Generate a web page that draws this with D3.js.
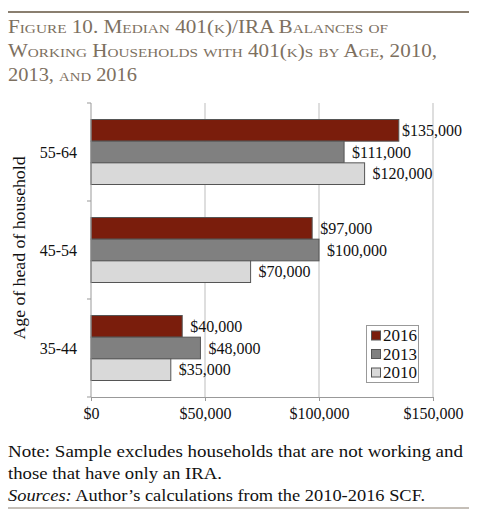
<!DOCTYPE html>
<html><head><meta charset="utf-8">
<script src="https://cdn.jsdelivr.net/npm/d3@7"></script>
<style>
body{margin:0;background:#fff;}
svg{display:block;font-family:"Liberation Serif","DejaVu Serif",serif;}
</style></head>
<body>
<svg id="chart" width="477" height="515"></svg>
<script>
const categories = ["55-64", "45-54", "35-44"];
const years = ["2016", "2013", "2010"];
const values2016 = [135000, 97000, 40000];
const values2013 = [111000, 100000, 48000];
const values2010 = [120000, 70000, 35000];
const xTicks = [0, 50000, 100000, 150000];
const colors = ["#7a1d0c", "#808080", "#d9d9d9"];
const titleLines = ["Figure 10. Median 401(k)/IRA Balances of", "Working Households with 401(k)s by Age, 2010,", "2013, and 2016"];
const noteLine1 = "Note: Sample excludes households that are not working and";
const noteLine2 = "those that have only an IRA.";
const sourceLabel = "Sources:";
const sourceText = " Author\u2019s calculations from the 2010-2016 SCF.";
const yLabel = "Age of head of household";

const series = [values2016, values2013, values2010];
const svg = d3.select("#chart");
const fmt = v => "$" + d3.format(",")(v);

// rules
svg.append("line").attr("x1",8).attr("x2",469).attr("y1",12).attr("y2",12).attr("stroke","#8a7f70").attr("stroke-width",2);
svg.append("line").attr("x1",8).attr("x2",469).attr("y1",508).attr("y2",508).attr("stroke","#8a7f70").attr("stroke-width",1);

// title
const titleWidths = [380, 429, 129];
svg.append("g").selectAll("text").data(titleLines).join("text")
  .attr("x",8).attr("y",(d,i)=>33+i*24)
  .style("font-variant","small-caps").attr("font-size",18).attr("fill","#7d705f")
  .attr("textLength",(d,i)=>titleWidths[i]).attr("lengthAdjust","spacingAndGlyphs")
  .text(d=>d);

const m = {left:91, right:433, top:103, bottom:397};
const x = d3.scaleLinear().domain([0,150000]).range([m.left,m.right]);
const y = d3.scaleBand().domain(categories).range([m.top,m.bottom]).padding(0);
const inner = d3.scaleBand().domain(years).range([16.5, y.bandwidth()-16.5]).padding(0);

// gridlines
svg.append("g").selectAll("line").data(xTicks.slice(1)).join("line")
  .attr("x1",d=>x(d)).attr("x2",d=>x(d)).attr("y1",m.top).attr("y2",m.bottom)
  .attr("stroke","#bdbdbd").attr("stroke-width",1);

// bars
const g = svg.append("g");
categories.forEach((c,ci)=>{
  years.forEach((yr,yi)=>{
    const v = series[yi][ci];
    g.append("rect")
      .attr("x",x(0)).attr("y",y(c)+inner(yr))
      .attr("width",x(v)-x(0)).attr("height",inner.bandwidth())
      .attr("fill",colors[yi]).attr("stroke","#555").attr("stroke-width",1);
  });
});

// axes
const xAxis = svg.append("g").attr("transform",`translate(0,${m.bottom})`)
  .call(d3.axisBottom(x).tickValues(xTicks).tickFormat(fmt).tickSize(4).tickSizeOuter(0));
xAxis.select(".domain").attr("stroke","#999");
xAxis.selectAll(".tick line").attr("stroke","#999");
xAxis.selectAll("text").attr("font-size",16).attr("fill","#111").attr("font-family","Liberation Serif").attr("dy","0.9em").attr("y",8);

svg.append("line").attr("x1",m.left).attr("x2",m.left).attr("y1",m.top).attr("y2",m.bottom).attr("stroke","#999");
const boundaries = [m.top, ...categories.map(c=>y(c)+y.bandwidth())];
svg.append("g").selectAll("line").data(boundaries).join("line")
  .attr("x1",m.left-4).attr("x2",m.left).attr("y1",d=>d).attr("y2",d=>d).attr("stroke","#999");

// category labels
svg.append("g").selectAll("text").data(categories).join("text")
  .attr("x",77).attr("y",c=>y(c)+y.bandwidth()/2).attr("dy","0.35em")
  .attr("text-anchor","end").attr("font-size",16).attr("fill","#111").text(c=>c);

// y label
svg.append("text").attr("transform",`translate(25,248) rotate(-90)`)
  .attr("text-anchor","middle").attr("font-size",16).attr("fill","#111")
  .attr("textLength",183).attr("lengthAdjust","spacingAndGlyphs").text(yLabel);

// value labels
const lg = svg.append("g");
categories.forEach((c,ci)=>{
  years.forEach((yr,yi)=>{
    const v = series[yi][ci];
    const t = lg.append("text").attr("y",y(c)+inner(yr)+inner.bandwidth()/2).attr("dy","0.35em")
      .attr("font-size",16).attr("fill","#111").text(fmt(v));
    const w = t.node().getComputedTextLength();
    t.attr("x", Math.min(x(v)+8, 462-w));
  });
});

// legend
const leg = svg.append("g");
leg.append("rect").attr("x",366.5).attr("y",325.5).attr("width",52).attr("height",57).attr("fill","#fff").attr("stroke","#999");
years.forEach((yr,i)=>{
  leg.append("rect").attr("x",371.5).attr("y",331+i*18.5).attr("width",9).attr("height",9).attr("fill",colors[i]).attr("stroke","#555");
  leg.append("text").attr("x",383).attr("y",335.5+i*18.5).attr("dy","0.35em").attr("font-size",17).attr("fill","#111").text(yr);
});

// notes
const nt = svg.append("g").attr("font-size",17).attr("fill","#111");
nt.append("text").attr("x",8).attr("y",457).attr("textLength",455).attr("lengthAdjust","spacingAndGlyphs").text(noteLine1);
nt.append("text").attr("x",8).attr("y",479).attr("textLength",214).attr("lengthAdjust","spacingAndGlyphs").text(noteLine2);
const s = nt.append("text").attr("x",8).attr("y",501).attr("textLength",417).attr("lengthAdjust","spacingAndGlyphs");
s.append("tspan").attr("font-style","italic").text(sourceLabel);
s.append("tspan").text(sourceText);
</script>
</body></html>
